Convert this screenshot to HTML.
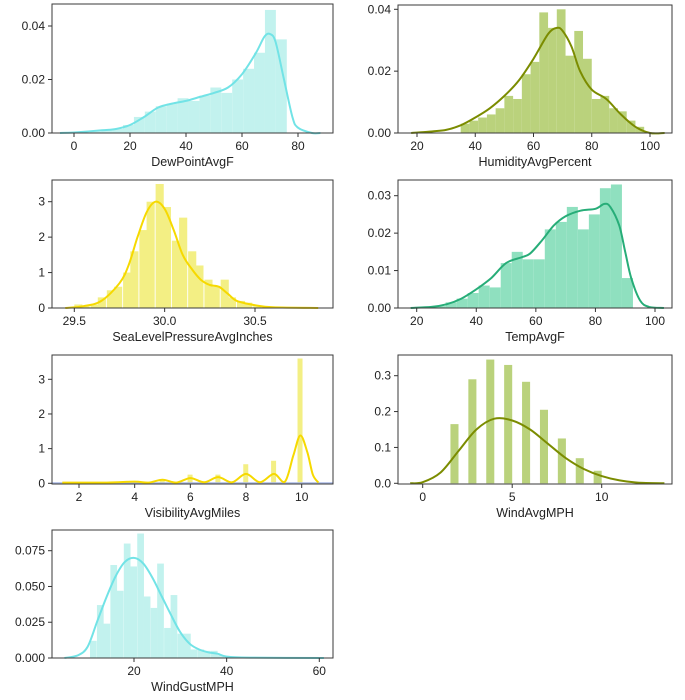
<!DOCTYPE html>
<html><head><meta charset="utf-8">
<style>
html,body{margin:0;padding:0;background:#fff;}
svg{display:block;font-family:"Liberation Sans","DejaVu Sans",sans-serif;}
</style></head>
<body>
<svg id="fig" width="685" height="700" viewBox="0 0 685 700"></svg>
<script>
// ---- DewPointAvgF ----
const dewBinStarts=[-2,1.9,5.8,9.7,13.6,17.5,21.4,25.3,29.2,33.1,37,40.9,44.8,48.7,52.6,56.5,60.4,64.3,68.2,72.1];
const dewBinHeights=[0,0,0.0005,0.001,0.0015,0.003,0.006,0.008,0.010,0.011,0.013,0.012,0.014,0.017,0.015,0.020,0.024,0.030,0.046,0.035];
const dewKdeX=[-5,0,10,15,20,25,30,35,40,45,50,55,60,65,68,70,72,75,78,80,85,88];
const dewKdeY=[0,0.0002,0.001,0.0015,0.003,0.006,0.0095,0.011,0.012,0.0135,0.015,0.017,0.022,0.030,0.036,0.037,0.034,0.02,0.006,0.002,0,0];
const dewXTicks=[0,20,40,60,80];
const dewYTicks=[0,0.02,0.04];
const dewYTickLabels=["0.00","0.02","0.04"];
// ---- HumidityAvgPercent ----
const humBinStarts=[35,38,41,44,47,50,53,56,59,62,65,68,71,74,77,80,83,86,89,92,95];
const humBinHeights=[0.003,0.004,0.005,0.006,0.008,0.012,0.011,0.019,0.023,0.039,0.034,0.040,0.025,0.033,0.024,0.011,0.012,0.008,0.007,0.004,0.002];
const humKdeX=[18,25,30,35,40,45,50,55,60,65,68,70,73,76,80,85,90,95,100,105];
const humKdeY=[0,0.0005,0.001,0.0025,0.005,0.008,0.012,0.017,0.024,0.032,0.034,0.033,0.028,0.020,0.014,0.011,0.006,0.002,0,0];
const humXTicks=[20,40,60,80,100];
const humYTicks=[0,0.02,0.04];
const humYTickLabels=["0.00","0.02","0.04"];
// ---- SeaLevelPressureAvgInches ----
const seaBinStarts=[29.45,29.5,29.54,29.59,29.63,29.68,29.72,29.77,29.81,29.86,29.9,29.95,29.99,30.04,30.08,30.13,30.17,30.22,30.26,30.31,30.35,30.4,30.44,30.49];
const seaBinHeights=[0.02,0.1,0.05,0.1,0.3,0.5,0.6,1.0,1.6,2.2,3.0,3.5,2.85,1.9,2.55,1.6,1.2,0.8,0.6,0.8,0.3,0.2,0.15,0.05];
const seaKdeX=[29.45,29.55,29.65,29.75,29.8,29.85,29.9,29.95,30.0,30.05,30.1,30.15,30.2,30.25,30.3,30.35,30.4,30.5,30.6,30.85];
const seaKdeY=[0,0.05,0.2,0.7,1.2,2.0,2.7,3.0,2.8,2.2,1.5,1.1,0.8,0.65,0.6,0.4,0.2,0.08,0.02,0];
const seaXTicks=[29.5,30.0,30.5];
const seaXTickLabels=["29.5","30.0","30.5"];
const seaYTicks=[0,1,2,3];
const seaYTickLabels=["0","1","2","3"];
// ---- TempAvgF ----
const tmpBinStarts=[26,29.7,33.4,37.1,40.8,44.5,48.2,51.9,55.6,59.3,63,66.7,70.4,74.1,77.8,81.5,85.2,88.9];
const tmpBinHeights=[0.0005,0.0015,0.0025,0.004,0.006,0.0055,0.012,0.015,0.013,0.013,0.021,0.023,0.027,0.021,0.025,0.032,0.033,0.008];
const tmpKdeX=[18,25,30,35,40,45,50,55,58,62,66,70,75,80,83,85,88,90,92,95,98,103];
const tmpKdeY=[0,0.0003,0.001,0.0025,0.005,0.008,0.012,0.0135,0.0145,0.018,0.022,0.0245,0.026,0.0265,0.0278,0.027,0.022,0.015,0.008,0.002,0.0003,0];
const tmpXTicks=[20,40,60,80,100];
const tmpYTicks=[0,0.01,0.02,0.03];
const tmpYTickLabels=["0.00","0.01","0.02","0.03"];
// ---- VisibilityAvgMiles ----
const visBinStarts=[3.9,4.9,5.9,6.9,7.9,8.9,9.85];
const visBinHeights=[0.05,0.1,0.25,0.25,0.55,0.65,3.6];
const visKdeX=[1.4,3,4,4.5,5,5.5,6,6.5,7,7.5,8,8.5,9,9.4,9.7,9.95,10.2,10.4,10.6];
const visKdeY=[0.02,0.02,0.05,0.02,0.1,0.02,0.15,0.03,0.18,0.03,0.27,0.03,0.27,0.05,0.8,1.38,0.9,0.25,0.02];
const visXTicks=[2,4,6,8,10];
const visYTicks=[0,1,2,3];
const visYTickLabels=["0","1","2","3"];
// ---- WindAvgMPH ----
const wndBinStarts=[1.55,2.55,3.55,4.55,5.55,6.55,7.55,8.55,9.55];
const wndBinHeights=[0.165,0.29,0.345,0.33,0.283,0.205,0.125,0.07,0.035];
const wndKdeX=[-0.7,0,1,2,3,4,5,6,7,8,9,10,11,12,13.5];
const wndKdeY=[0,0.003,0.03,0.09,0.15,0.18,0.175,0.15,0.11,0.07,0.04,0.02,0.008,0.002,0];
const wndXTicks=[0,5,10];
const wndYTicks=[0,0.1,0.2,0.3];
const wndYTickLabels=["0.0","0.1","0.2","0.3"];
// ---- WindGustMPH ----
const gstBinStarts=[10.5,12,13.4,14.9,16.3,17.8,19.2,20.7,22.1,23.6,25,26.5,27.9,29.4,30.8,32.2,33.7,35.1,36.6,38];
const gstBinHeights=[0.012,0.037,0.024,0.065,0.047,0.080,0.064,0.087,0.043,0.035,0.066,0.021,0.044,0.017,0.017,0.006,0.006,0.005,0.005,0.002];
const gstKdeX=[5,8,10,12,14,16,18,20,22,24,26,28,30,32,34,36,38,40,45,61];
const gstKdeY=[0,0.002,0.008,0.025,0.042,0.057,0.067,0.07,0.066,0.056,0.043,0.03,0.018,0.01,0.006,0.004,0.003,0.001,0.0003,0];
const gstXTicks=[20,40,60];
const gstYTicks=[0,0.025,0.05,0.075];
const gstYTickLabels=["0.000","0.025","0.050","0.075"];

const NS="http://www.w3.org/2000/svg";
const svg=document.getElementById('fig');
function mk(tag,attrs,parent){const e=document.createElementNS(NS,tag);for(const k in attrs)e.setAttribute(k,attrs[k]);(parent||svg).appendChild(e);return e;}
function smooth(P){
  let d='M'+P[0][0].toFixed(1)+','+P[0][1].toFixed(1);
  for(let i=0;i<P.length-1;i++){
    const p0=P[Math.max(0,i-1)],p1=P[i],p2=P[i+1],p3=P[Math.min(P.length-1,i+2)];
    const c1=[p1[0]+(p2[0]-p0[0])/6,p1[1]+(p2[1]-p0[1])/6];
    const c2=[p2[0]-(p3[0]-p1[0])/6,p2[1]-(p3[1]-p1[1])/6];
    d+=' C'+c1.map(v=>v.toFixed(1)).join(',')+' '+c2.map(v=>v.toFixed(1)).join(',')+' '+p2.map(v=>v.toFixed(1)).join(',');
  }
  return d;
}

function panel(cfg){
  const g=mk('g',{});
  
  
  const [fx0,fx1,fy0,fy1]=cfg.frame;
  const xs=v=>cfg.xp[0]+(v-cfg.xv[0])*(cfg.xp[1]-cfg.xp[0])/(cfg.xv[1]-cfg.xv[0]);
  const ys=v=>cfg.yp[0]+(v-cfg.yv[0])*(cfg.yp[1]-cfg.yp[0])/(cfg.yv[1]-cfg.yv[0]);
  cfg.bins.forEach((s,i)=>{
    const h=cfg.heights[i];
    const x0=xs(s),x1=xs(s+cfg.bw);
    const r=mk('rect',{x:x0,y:ys(h),width:Math.max(0.5,x1-x0),height:Math.max(0,ys(0)-ys(h)),fill:cfg.bar},g);
    
    
  });
  if(cfg.base){mk('line',{x1:fx0,x2:fx1,y1:fy1-1,y2:fy1-1,stroke:cfg.base,'stroke-width':1.5},g);}
  const pts=cfg.kx.map((x,i)=>[xs(x),ys(cfg.ky[i])]);
  const p=mk('path',{d:smooth(pts),fill:'none',stroke:cfg.line,'stroke-width':2,'stroke-linejoin':'round'},g);
  
  
  const f=mk('rect',{x:fx0,y:fy0,width:fx1-fx0,height:fy1-fy0,fill:'none',stroke:'#3a3a3a','stroke-width':1},g);
  
  
  cfg.xt.forEach((v,i)=>{
    const x=xs(v);
    mk('line',{x1:x,x2:x,y1:fy1,y2:fy1+4,stroke:'#333'},g);
    const t=mk('text',{x:x,y:fy1+17,'text-anchor':'middle','font-size':12,fill:'#222'},g);
    t.textContent=cfg.xtl?cfg.xtl[i]:String(v);
    
    
  });
  cfg.yt.forEach((v,i)=>{
    const y=ys(v);
    mk('line',{x1:fx0-4,x2:fx0,y1:y,y2:y,stroke:'#333'},g);
    const t=mk('text',{x:fx0-7,y:y+4,'text-anchor':'end','font-size':12,fill:'#222'},g);
    t.textContent=cfg.ytl[i];
    
    
  });
  const xl=mk('text',{x:(fx0+fx1)/2,y:fy1+33,'text-anchor':'middle','font-size':12.5,fill:'#222'},g);
  xl.textContent=cfg.label;
  
  
}

const CY_L='#72e3e6',CY_B='#c2f2ee',OL_L='#7b8c00',OL_B='#bad27c',YE_L='#f6d900',YE_B='#f3ef84',TE_L='#27ad78',TE_B='#8fe0bf';
panel({name:'dewpoint',frame:[52,333,4,133],xp:[74,298],xv:[0,80],yp:[133,26],yv:[0,0.04],bins:dewBinStarts,heights:dewBinHeights,bw:3.9,kx:dewKdeX,ky:dewKdeY,xt:dewXTicks,yt:dewYTicks,ytl:dewYTickLabels,label:'DewPointAvgF',line:CY_L,bar:CY_B});
panel({name:'humidity',frame:[398,672,5,133],xp:[417,650],xv:[20,100],yp:[133,9.3],yv:[0,0.04],bins:humBinStarts,heights:humBinHeights,bw:3,kx:humKdeX,ky:humKdeY,xt:humXTicks,yt:humYTicks,ytl:humYTickLabels,label:'HumidityAvgPercent',line:OL_L,bar:OL_B});
panel({name:'sealevel',frame:[52,333,180,308],xp:[74.3,255],xv:[29.5,30.5],yp:[308,201.7],yv:[0,3],bins:seaBinStarts,heights:seaBinHeights,bw:0.045,kx:seaKdeX,ky:seaKdeY,xt:seaXTicks,xtl:seaXTickLabels,yt:seaYTicks,ytl:seaYTickLabels,label:'SeaLevelPressureAvgInches',line:YE_L,bar:YE_B});
panel({name:'temp',frame:[398,672,180,308],xp:[416.7,655],xv:[20,100],yp:[308,195.7],yv:[0,0.03],bins:tmpBinStarts,heights:tmpBinHeights,bw:3.7,kx:tmpKdeX,ky:tmpKdeY,xt:tmpXTicks,yt:tmpYTicks,ytl:tmpYTickLabels,label:'TempAvgF',line:TE_L,bar:TE_B});
panel({name:'visibility',frame:[52,333,355,484],xp:[79,301.7],xv:[2,10],yp:[483.3,379.3],yv:[0,3],bins:visBinStarts,heights:visBinHeights,bw:0.18,kx:visKdeX,ky:visKdeY,xt:visXTicks,yt:visYTicks,ytl:visYTickLabels,label:'VisibilityAvgMiles',line:YE_L,bar:YE_B,base:'#a9b9e6'});
panel({name:'windavg',frame:[398,672,355,484],xp:[422.7,601.7],xv:[0,10],yp:[483.3,375.7],yv:[0,0.3],bins:wndBinStarts,heights:wndBinHeights,bw:0.45,kx:wndKdeX,ky:wndKdeY,xt:wndXTicks,yt:wndYTicks,ytl:wndYTickLabels,label:'WindAvgMPH',line:OL_L,bar:OL_B});
panel({name:'windgust',frame:[52,333,530,658],xp:[134,319.3],xv:[20,60],yp:[658,550.7],yv:[0,0.075],bins:gstBinStarts,heights:gstBinHeights,bw:1.45,kx:gstKdeX,ky:gstKdeY,xt:gstXTicks,yt:gstYTicks,ytl:gstYTickLabels,label:'WindGustMPH',line:CY_L,bar:CY_B});
</script>
</body></html>
